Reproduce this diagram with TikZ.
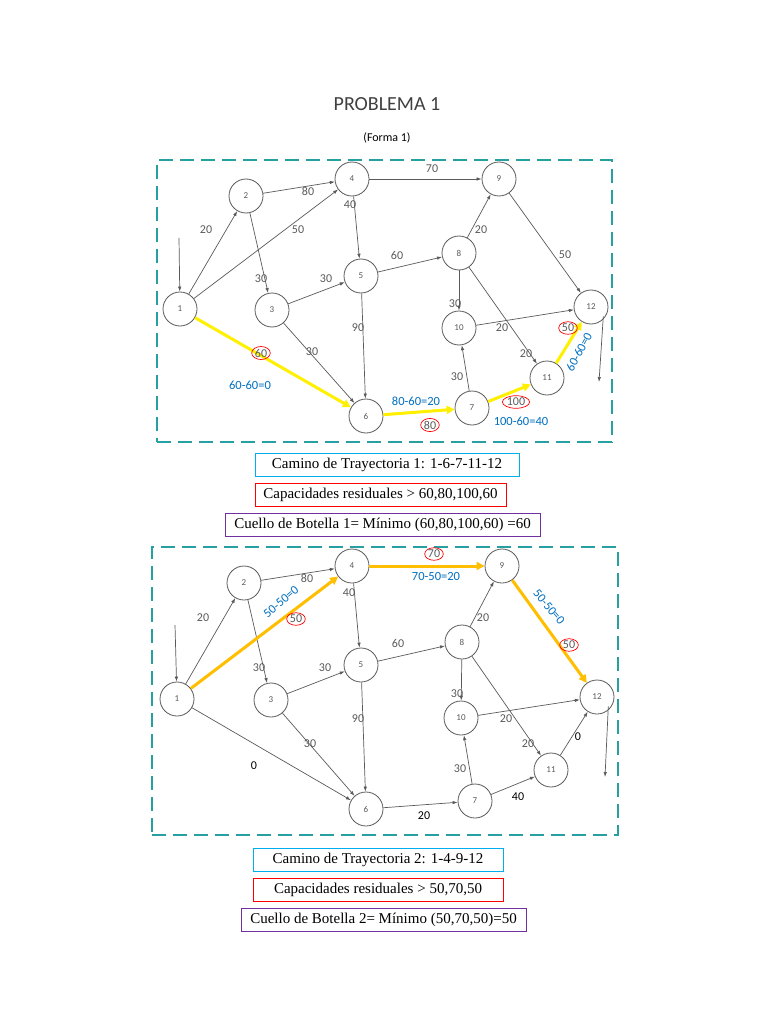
\documentclass[tikz,border=0pt]{standalone}
\usepackage{fontspec}
\setmainfont{Liberation Serif}
\newfontfamily\carl{Carlito}
\usetikzlibrary{arrows.meta,shapes.geometric}
\definecolor{teal1}{RGB}{38,160,160}
\definecolor{blu}{RGB}{0,112,192}
\definecolor{gry}{RGB}{90,90,90}
\definecolor{yel}{RGB}{255,240,0}
\definecolor{org}{RGB}{255,190,0}
\definecolor{purp}{RGB}{112,48,160}
\tikzset{
 nd/.style={circle,draw=gry,line width=0.8pt,minimum size=34pt,inner sep=0pt,font=\carl\fontsize{9}{9}\selectfont,text=gry},
 ed/.style={draw=gry,line width=0.7pt,-{Latex[length=5pt,width=3.5pt]}},
 lb/.style={font=\carl\fontsize{12}{12}\selectfont,text=gry},
 bl/.style={font=\carl\fontsize{12.5}{12.5}\selectfont,text=blu},
 rc/.style={draw=red,ellipse,line width=0.7pt,inner sep=0.5pt,font=\carl\fontsize{12}{12}\selectfont,text=gry},
 yp/.style={draw=yel,line width=3pt,-{Triangle[length=8pt,width=8pt]}},
 op/.style={draw=org,line width=3pt,-{Triangle[length=8pt,width=8pt]}},
 frame/.style={draw=teal1,line width=2pt,dash pattern=on 14pt off 7pt},
 tb/.style={draw=#1,line width=0.8pt,font=\fontsize{15}{15}\selectfont,minimum height=23pt,inner xsep=2pt},
}
\begin{document}
\begin{tikzpicture}[x=1pt,y=-1pt]
\useasboundingbox[fill=white] (0,0) rectangle (768,1024);
\node[font=\carl\fontsize{20}{20}\selectfont,text=black!75] (t) at (387,104) {PROBLEMA 1};
\node[font=\carl\fontsize{12}{12}\selectfont] (f) at (387,138) {(Forma 1)};
% ---------- diagram 1
\node[frame,minimum width=455pt,minimum height=282pt] (fr1) at (384.5,301) {};
\node[nd] (a1) at (180,309) {1};
\node[nd] (a2) at (246,196) {2};
\node[nd] (a3) at (272,310) {3};
\node[nd] (a4) at (352,179) {4};
\node[nd] (a5) at (361,276) {5};
\node[nd] (a6) at (366,416) {6};
\node[nd] (a7) at (472,408) {7};
\node[nd] (a8) at (459,253) {8};
\node[nd] (a9) at (499,179) {9};
\node[nd] (a10) at (459,328) {10};
\node[nd] (a11) at (547,378) {11};
\node[nd] (a12) at (591,307) {12};
\coordinate (ain) at (179,238);
\coordinate (aout) at (599,382);
\draw[ed] (ain) -- (a1);
\draw[ed] (a1) -- (a2); \draw[ed] (a1) -- (a4); \draw[ed] (a2) -- (a4); \draw[ed] (a2) -- (a3);
\draw[ed] (a3) -- (a5); \draw[ed] (a3) -- (a6); \draw[ed] (a4) -- (a9); \draw[ed] (a4) -- (a5);
\draw[ed] (a5) -- (a8); \draw[ed] (a5) -- (a6); \draw[ed] (a7) -- (a10); \draw[ed] (a8) -- (a9);
\draw[ed] (a8) -- (a10); \draw[ed] (a8) -- (a11); \draw[ed] (a10) -- (a12); \draw[ed] (a9) -- (a12);
\draw[ed] (a12.south east) ++(0,-3) coordinate (aq) -- (aout);
\draw[yp] (a1) -- (a6); \draw[yp] (a6) -- (a7); \draw[yp] (a7) -- (a11); \draw[yp] (a11) -- (a12);
\node[lb] (l1) at (432,169) {70}; \node[lb] (l2) at (308,191) {80}; \node[lb] (l3) at (206,230) {20};
\node[lb] (l4) at (298,230) {50}; \node[lb] (l5) at (350,205) {40}; \node[lb] (l6) at (261,279) {30};
\node[lb] (l7) at (326,279) {30}; \node[lb] (l8) at (397,255) {60}; \node[lb] (l9) at (481,230) {20};
\node[lb] (l10) at (565,255) {50}; \node[lb] (l11) at (358,328) {90}; \node[lb] (l12) at (312,352) {30};
\node[lb] (l13) at (455,304) {30}; \node[lb] (l14) at (502,328) {20}; \node[lb] (l15) at (526,354) {20};
\node[lb] (l16) at (457,377) {30};
\node[rc] (c1) at (261,353) {60}; \node[bl] (b1) at (250,385) {60-60=0};
\node[bl] (b2) at (416,401) {80-60=20}; \node[rc] (c2) at (430,425) {80};
\node[rc] (c3) at (516,402) {100}; \node[bl] (b3) at (521,421) {100-60=40};
\node[rc] (c4) at (568,328) {50}; \node[bl,rotate=62] (b4) at (579,352) {60-60=0};
\node[tb=cyan,minimum width=264pt] (t1) at (387,465) {Camino de Trayectoria 1: 1-6-7-11-12};
\node[tb=red,minimum width=251pt] (t2) at (380.5,495) {Capacidades residuales > 60,80,100,60};
\node[tb=purp,minimum width=315pt] (t3) at (382.5,525) {Cuello de Botella 1= Mínimo (60,80,100,60) =60};
% ---------- diagram 2
\node[frame,minimum width=466pt,minimum height=288pt] (fr2) at (385,691) {};
\node[nd] (b1n) at (177,699) {1};
\node[nd] (b2n) at (244,583) {2};
\node[nd] (b3n) at (271,700) {3};
\node[nd] (b4n) at (352,566) {4};
\node[nd] (b5n) at (361,665) {5};
\node[nd] (b6n) at (366,809) {6};
\node[nd] (b7n) at (475,801) {7};
\node[nd] (b8n) at (462,642) {8};
\node[nd] (b9n) at (502,566) {9};
\node[nd] (b10n) at (461,718) {10};
\node[nd] (b11n) at (551,770) {11};
\node[nd] (b12n) at (597,697) {12};
\coordinate (bin) at (175,625);
\coordinate (bout) at (605,777);
\draw[ed] (bin) -- (b1n);
\draw[ed] (b1n) -- (b2n); \draw[ed] (b1n) -- (b6n); \draw[ed] (b2n) -- (b4n); \draw[ed] (b2n) -- (b3n);
\draw[ed] (b3n) -- (b5n); \draw[ed] (b3n) -- (b6n); \draw[ed] (b4n) -- (b5n);
\draw[ed] (b5n) -- (b8n); \draw[ed] (b5n) -- (b6n); \draw[ed] (b6n) -- (b7n); \draw[ed] (b7n) -- (b10n);
\draw[ed] (b7n) -- (b11n); \draw[ed] (b8n) -- (b9n); \draw[ed] (b8n) -- (b10n); \draw[ed] (b8n) -- (b11n);
\draw[ed] (b10n) -- (b12n); \draw[ed] (b11n) -- (b12n);
\draw[ed] (b12n.south east) ++(-1,-3) -- (bout);
\draw[op] (b1n) -- (b4n); \draw[op] (b4n) -- (b9n); \draw[op] (b9n) -- (b12n);
\node[rc] (d1) at (434,554) {70}; \node[bl] (e1) at (436,576) {70-50=20};
\node[lb] (m1) at (307,578) {80}; \node[lb] (m2) at (203,618) {20};
\node[bl,rotate=40] (e2) at (281,602) {50-50=0}; \node[rc] (d2) at (296,619) {50};
\node[lb] (m3) at (349,593) {40}; \node[lb] (m4) at (259,668) {30}; \node[lb] (m5) at (325,668) {30};
\node[lb] (m6) at (398,643) {60}; \node[lb] (m7) at (483,618) {20};
\node[bl,rotate=-50] (e3) at (549,607) {50-50=0}; \node[rc] (d3) at (569,645) {50};
\node[lb] (m8) at (358,719) {90}; \node[lb] (m9) at (310,744) {30}; \node[lb] (m10) at (457,694) {30};
\node[lb] (m11) at (506,719) {20}; \node[lb] (m12) at (528,744) {20}; \node[lb] (m13) at (460,769) {30};
\node[lb,text=black] (m14) at (254,766) {0}; \node[lb,text=black] (m15) at (424,816) {20};
\node[lb,text=black] (m16) at (518,797) {40}; \node[lb,text=black] (m17) at (578,737) {0};
\node[tb=cyan,minimum width=250pt] (t4) at (378,859.5) {Camino de Trayectoria 2: 1-4-9-12};
\node[tb=red,minimum width=250pt] (t5) at (378,889.5) {Capacidades residuales > 50,70,50};
\node[tb=purp,minimum width=285pt] (t6) at (383.5,919.5) {Cuello de Botella 2= Mínimo (50,70,50)=50};
\end{tikzpicture}
\end{document}
